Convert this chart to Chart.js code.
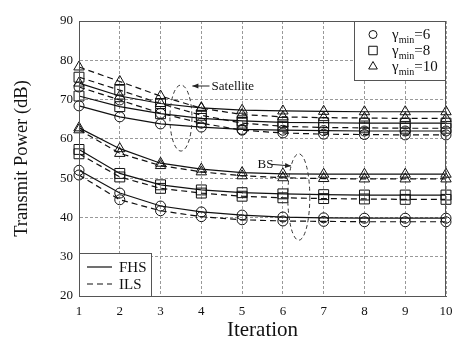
<!DOCTYPE html>
<html><head><meta charset="utf-8">
<script src="https://cdn.jsdelivr.net/npm/chart.js@4"></script>
<style>html,body{margin:0;padding:0;background:#fff}</style>
</head><body>
<canvas id="c" width="474" height="356"></canvas>
<script>
const iterations = ['1','2','3','4','5','6','7','8','9','10'];
const yTicks = [20,30,40,50,60,70,80,90];

// Satellite
const satFHS6  = [68.4, 65.6, 63.8, 63.0, 62.4, 62.2, 62.1, 62.0, 62.0, 62.0];
const satILS6  = [73.2, 69.9, 66.5, 64.0, 62.2, 61.5, 61.2, 61.1, 61.0, 61.0];
const satFHS8  = [70.9, 68.2, 66.4, 65.2, 64.6, 64.2, 64.1, 64.0, 64.0, 64.0];
const satILS8  = [75.7, 72.4, 69.0, 66.0, 64.0, 63.2, 62.9, 62.8, 62.7, 62.7];
const satFHS10 = [74.2, 70.9, 69.0, 67.9, 67.3, 67.1, 67.0, 66.9, 66.9, 66.9];
const satILS10 = [78.3, 74.6, 70.9, 67.8, 66.2, 65.6, 65.4, 65.3, 65.2, 65.2];
// BS
const bsFHS6  = [52.0, 46.2, 42.9, 41.4, 40.6, 40.1, 39.9, 39.8, 39.8, 39.8];
const bsILS6  = [50.8, 44.5, 41.7, 40.2, 39.4, 39.1, 39.0, 38.9, 38.9, 38.9];
const bsFHS8  = [57.3, 51.2, 48.3, 47.0, 46.3, 46.0, 45.8, 45.7, 45.7, 45.7];
const bsILS8  = [56.2, 50.3, 47.4, 46.2, 45.4, 45.0, 44.8, 44.7, 44.6, 44.6];
const bsFHS10 = [62.8, 57.5, 53.8, 52.3, 51.4, 51.1, 51.0, 51.0, 51.0, 51.0];
const bsILS10 = [62.3, 56.3, 53.2, 51.6, 50.6, 50.1, 49.9, 49.8, 49.8, 49.8];

const SERIF = '"Liberation Serif", "DejaVu Serif", serif';
const INK = '#111';
const markers = {6:{style:'circle',r:5}, 8:{style:'rect',r:7}, 10:{style:'triangle',r:6}};

function ds(label, data, gamma, dashed){
  const m = markers[gamma];
  return {
    label, data,
    borderColor: INK, borderWidth: 1.2,
    borderDash: dashed ? [6,4] : [],
    fill: false, tension: 0,
    pointStyle: m.style, pointRadius: m.r, pointBorderWidth: 1,
    pointBorderColor: INK, pointBackgroundColor: 'rgba(255,255,255,0)'
  };
}

const datasets = [
  ds('Sat FHS 6', satFHS6, 6, false), ds('Sat ILS 6', satILS6, 6, true),
  ds('Sat FHS 8', satFHS8, 8, false), ds('Sat ILS 8', satILS8, 8, true),
  ds('Sat FHS 10', satFHS10, 10, false), ds('Sat ILS 10', satILS10, 10, true),
  ds('BS FHS 6', bsFHS6, 6, false), ds('BS ILS 6', bsILS6, 6, true),
  ds('BS FHS 8', bsFHS8, 8, false), ds('BS ILS 8', bsILS8, 8, true),
  ds('BS FHS 10', bsFHS10, 10, false), ds('BS ILS 10', bsILS10, 10, true)
];

const decor = {
  id: 'decor',
  afterDatasetsDraw(chart){
    const {ctx, chartArea: a, scales:{x, y}} = chart;
    const px = v => a.left + (v - 1) * (a.right - a.left) / 9;
    ctx.save();
    // frame
    ctx.strokeStyle = '#555'; ctx.lineWidth = 1; ctx.setLineDash([]);
    ctx.strokeRect(a.left + 0.5, a.top + 0.5, a.right - a.left - 1, a.bottom - a.top);

    // ellipses
    function ell(cx, cy, rxv, ryv){
      const X = px(cx), Y = y.getPixelForValue(cy);
      const rx = rxv * (a.right - a.left) / 9;
      const ry = Math.abs(y.getPixelForValue(cy + ryv) - Y);
      ctx.beginPath(); ctx.setLineDash([4,3]); ctx.strokeStyle = '#333'; ctx.lineWidth = 1;
      ctx.ellipse(X, Y, rx, ry, 0, 0, Math.PI*2); ctx.stroke(); ctx.setLineDash([]);
    }
    ell(3.5, 65.3, 0.27, 8.4);
    ell(6.39, 45.2, 0.27, 11);

    function arrow(x1, y1, x2, y2){
      ctx.beginPath(); ctx.strokeStyle = '#222'; ctx.lineWidth = 1;
      ctx.moveTo(x1, y1); ctx.lineTo(x2, y2); ctx.stroke();
      const ang = Math.atan2(y2 - y1, x2 - x1);
      ctx.beginPath(); ctx.fillStyle = '#222';
      ctx.moveTo(x2, y2);
      ctx.lineTo(x2 - 6*Math.cos(ang) + 2.5*Math.sin(ang), y2 - 6*Math.sin(ang) - 2.5*Math.cos(ang));
      ctx.lineTo(x2 - 6*Math.cos(ang) - 2.5*Math.sin(ang), y2 - 6*Math.sin(ang) + 2.5*Math.cos(ang));
      ctx.closePath(); ctx.fill();
    }
    ctx.fillStyle = INK; ctx.font = '13px ' + SERIF; ctx.textBaseline = 'alphabetic'; ctx.textAlign = 'left';
    const sy = y.getPixelForValue(73.2);
    ctx.fillText('Satellite', px(4.25), sy + 3);
    arrow(px(4.2), sy - 1, px(3.78), sy - 1);
    const by = y.getPixelForValue(53.5);
    ctx.fillStyle = INK;
    ctx.fillText('BS', px(5.38), by + 4);
    arrow(px(5.72), by, px(6.2), by + 1.5);

    // legend top-right
    const lx = a.right - 92, ly = a.top;
    ctx.fillStyle = '#fff'; ctx.fillRect(lx, ly, 92, 59);
    ctx.strokeStyle = '#555'; ctx.lineWidth = 1; ctx.strokeRect(lx + 0.5, ly + 0.5, 91, 59);
    const rows = [[6,'6'],[8,'8'],[10,'10']];
    rows.forEach((r, i) => {
      const cy = ly + 13.5 + i * 16;
      const m = markers[r[0]];
      ctx.strokeStyle = INK; ctx.lineWidth = 1; ctx.fillStyle = 'rgba(255,255,255,0)';
      Chart.helpers.drawPoint(ctx, {pointStyle: m.style, radius: m.r - 1, borderWidth: 1}, lx + 19, cy);
      ctx.fillStyle = INK; ctx.textAlign = 'left'; ctx.textBaseline = 'alphabetic';
      ctx.font = '15px ' + SERIF;
      ctx.fillText('\u03B3', lx + 38, cy + 4.5);
      const gw = ctx.measureText('\u03B3').width;
      ctx.font = '10px ' + SERIF;
      ctx.fillText('min', lx + 38 + gw, cy + 8);
      const mw = ctx.measureText('min').width;
      ctx.font = '15px ' + SERIF;
      ctx.fillText('=' + r[1], lx + 38 + gw + mw, cy + 4.5);
    });

    // legend bottom-left
    const bx = a.left, bh = 43, bty = a.bottom - bh;
    ctx.fillStyle = '#fff'; ctx.fillRect(bx, bty, 72, bh);
    ctx.strokeStyle = '#555'; ctx.strokeRect(bx + 0.5, bty + 0.5, 72, bh);
    [['FHS', []], ['ILS', [6,4]]].forEach((r, i) => {
      const yy = bty + 14 + i * 17;
      ctx.beginPath(); ctx.strokeStyle = INK; ctx.lineWidth = 1.2; ctx.setLineDash(r[1]);
      ctx.moveTo(bx + 8, yy); ctx.lineTo(bx + 33, yy); ctx.stroke(); ctx.setLineDash([]);
      ctx.fillStyle = INK; ctx.font = '15px ' + SERIF; ctx.textBaseline = 'middle';
      ctx.fillText(r[0], bx + 40, yy + 1);
    });
    ctx.restore();
  }
};

new Chart(document.getElementById('c'), {
  type: 'line',
  data: { labels: iterations, datasets },
  options: {
    responsive: false, animation: false, devicePixelRatio: 1,
    layout: { padding: { top: 21, right: 28, left: 0, bottom: 0 } },
    plugins: { legend: { display: false }, tooltip: { enabled: false } },
    scales: {
      x: {
        offset: false,
        grid: { color: '#999', lineWidth: 1, drawTicks: false },
        border: { display: true, color: '#555', dash: [3,2] },
        ticks: { color: INK, font: { family: SERIF, size: 13 }, padding: 8, maxRotation: 0 },
        title: { display: true, text: 'Iteration', color: INK, font: { family: SERIF, size: 21 }, padding: { top: 0, bottom: 13 } },
        afterFit(s){ s.height = 60; }
      },
      y: {
        min: 20, max: 90,
        afterBuildTicks(s){ s.ticks = yTicks.map(v => ({ value: v })); },
        grid: { color: '#999', lineWidth: 1, drawTicks: false },
        border: { display: true, color: '#555', dash: [3,2] },
        ticks: { color: INK, font: { family: SERIF, size: 13 }, padding: 6 },
        title: { display: true, text: 'Transmit Power (dB)', color: INK, font: { family: SERIF, size: 18.5 }, padding: { top: 11, bottom: 0 } },
        afterFit(s){ s.width = 79; }
      }
    }
  },
  plugins: [decor]
});
</script>
</body></html>
